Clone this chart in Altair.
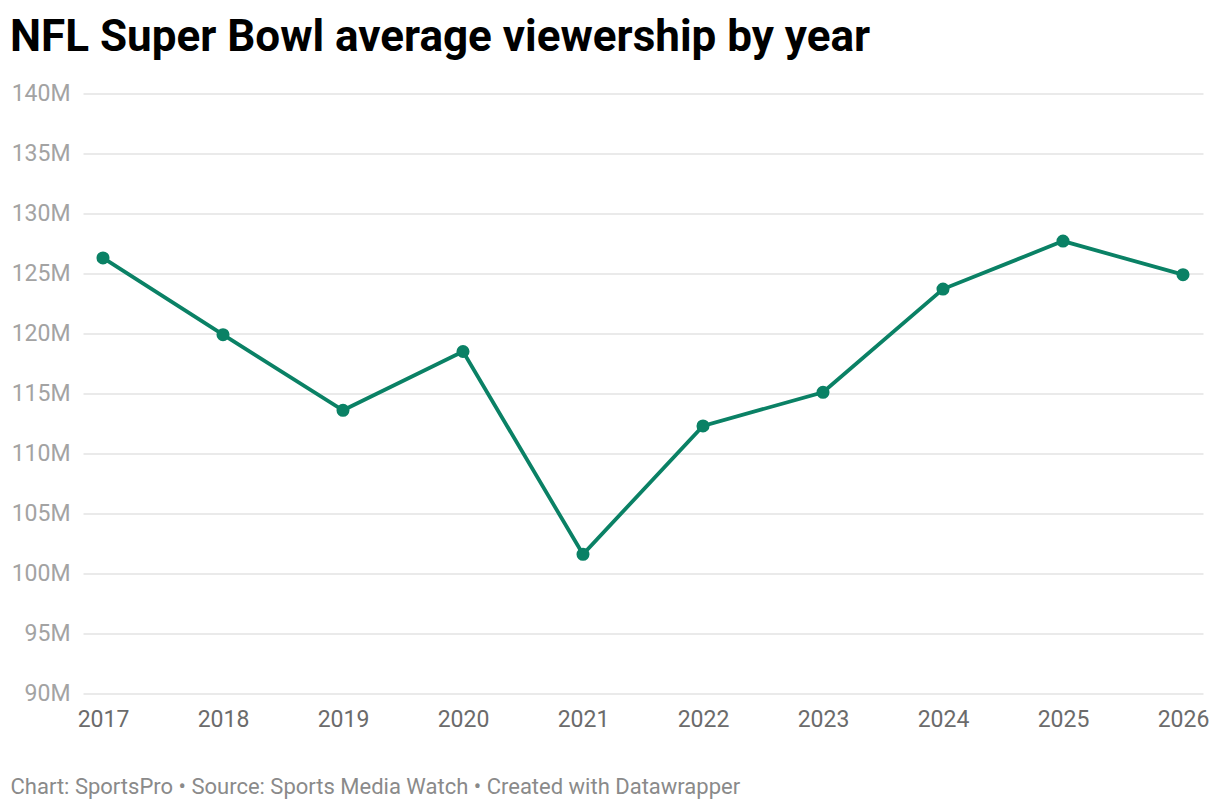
import altair as alt
import pandas as pd

years = [2017, 2018, 2019, 2020, 2021, 2022, 2023, 2024, 2025, 2026]
viewers_m = [126.3, 119.9, 113.6, 118.5, 101.6, 112.3, 115.1, 123.7, 127.7, 124.9]
y_ticks = [90, 95, 100, 105, 110, 115, 120, 125, 130, 135, 140]

title_text = "NFL Super Bowl average viewership by year"
footer_text = "Chart: SportsPro \u2022 Source: Sports Media Watch \u2022 Created with Datawrapper"

df = pd.DataFrame({"year": years, "viewers": viewers_m})

LINE = "#0a8165"

x_enc = alt.X(
    "year:O",
    scale=alt.Scale(type="point", padding=1 / 6),
    axis=alt.Axis(
        title=footer_text,
        titleFont="Roboto",
        titleFontSize=22,
        titleFontWeight="normal",
        titleColor="#8a8a8a",
        titleAnchor="start",
        titleAlign="left",
        titleBaseline="alphabetic",
        titleX=-73,
        titleY=100,
        labelAngle=0,
        labelFont="Roboto",
        labelFontSize=23,
        labelColor="#6b6b6b",
        labelPadding=15,
        domain=False,
        ticks=False,
        grid=False,
    ),
)
y_enc = alt.Y(
    "viewers:Q",
    scale=alt.Scale(domain=[90, 140], nice=False, zero=False),
    axis=alt.Axis(
        title=None,
        values=y_ticks,
        labelExpr="datum.value + 'M'",
        labelFont="Roboto",
        labelFontSize=23,
        labelColor="#a3a3a3",
        labelPadding=13,
        domain=False,
        ticks=False,
        grid=True,
        gridColor="#e3e3e3",
        gridWidth=1.5,
    ),
)

base = alt.Chart(df).encode(x=x_enc, y=y_enc)
line = base.mark_line(color=LINE, strokeWidth=3.8)
points = base.mark_circle(color=LINE, size=170, opacity=1)

chart = (
    alt.layer(line, points)
    .properties(
        width=1120,
        height=600,
        autosize=alt.AutoSizeParams(type="none"),
        padding={"left": 83, "top": 93.5, "right": 17, "bottom": 116.5},
        title=alt.Title(
            title_text,
            anchor="start",
            font="Roboto",
            fontSize=44,
            fontWeight="bold",
            color="#000000",
            dx=0,
            offset=23,
        ),
        background="white",
    )
    .configure_view(stroke=None)
)

chart.save("out.html", embed_options={"renderer": "svg", "actions": False})
